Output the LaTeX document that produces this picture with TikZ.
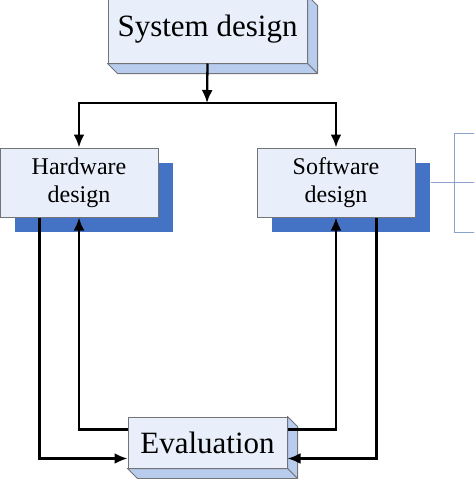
\documentclass[tikz,border=0pt]{standalone}
\usepackage{fontspec}
\setmainfont{Liberation Serif}
\usetikzlibrary{positioning, shadows, arrows.meta}
\usetikzlibrary{calc}
\definecolor{facecol}{RGB}{232,238,250}
\definecolor{sidecol}{RGB}{184,204,238}
\definecolor{shadowcol}{RGB}{68,114,196}
\definecolor{edgecol}{RGB}{115,115,120}
\definecolor{notecol}{RGB}{140,162,206}
\tikzstyle{block3d} = [rectangle, inner sep=0pt, fill=facecol, draw=edgecol, line width=1pt, text centered, font=\fontsize{31}{33}\selectfont]
\tikzstyle{side3d} = [fill=sidecol, draw=edgecol, line width=1pt, line join=round]
\tikzstyle{shadowbox} = [rectangle, inner sep=0pt, minimum width=158pt, minimum height=69pt, fill=facecol, draw=edgecol, line width=1pt, align=center, font=\fontsize{24}{28}\selectfont, drop shadow={shadow xshift=15pt, shadow yshift=-15pt, fill=shadowcol, opacity=1}]
\tikzstyle{notebox} = [rectangle, draw=notecol, line width=0.9pt]
\tikzstyle{noteline} = [draw=notecol, line width=0.9pt]
\tikzstyle{arrow} = [line width=2.3pt, ->, >={Latex[length=13pt,width=11pt]}]
\newcommand{\extrude}[1]{%
  \draw[side3d] (#1.north east) -- ++(10,10) -- ($(#1.south east)+(10,10)$) -- (#1.south east) -- cycle;
  \draw[side3d] (#1.south west) -- ($(#1.south west)+(10,10)$) -- ($(#1.south east)+(10,10)$) -- (#1.south east) -- cycle;}

\begin{document}
\begin{tikzpicture}[x=1pt, y=-1pt]
		\useasboundingbox (0,0) rectangle (474,479);
		\clip (0,0) rectangle (474,479);
		%blocks
		\node (sys) [block3d, minimum width=199pt, minimum height=67pt] at (207.5,29.5) {System design};
		\node (hw) [shadowbox] at (79,182.5) {Hardware\\design};
		\node (sw) [shadowbox] at (336,182.5) {Software\\design};
		\node (eval) [block3d, below of=sys, node distance=413pt, minimum width=159pt, minimum height=51pt] {Evaluation};
		\node (note) [notebox, anchor=west, minimum width=40pt, minimum height=99pt] at (454,182.5) {};
		\extrude{sys}
		\extrude{eval}
		
		%connectors
		\coordinate (split) at (207,103);
		\draw [arrow] (sys.south) -- (split);
		\draw [arrow] (split) -| (hw.north);
		\draw [arrow] (split) -| (sw.north);
		\draw [arrow] ([xshift=40pt]hw.south west) |- ([yshift=-16pt]eval.west);
		\draw [arrow] ([yshift=13pt]eval.west) -| (hw.south);
		\draw [arrow] ([yshift=13pt]eval.east) -| (sw.south);
		\draw [arrow] ([xshift=-39pt]sw.south east) |- ([yshift=-16pt]eval.east);
		\draw [noteline] ([xshift=15pt]sw.east) -- (note.east);
	\end{tikzpicture}
\end{document}
